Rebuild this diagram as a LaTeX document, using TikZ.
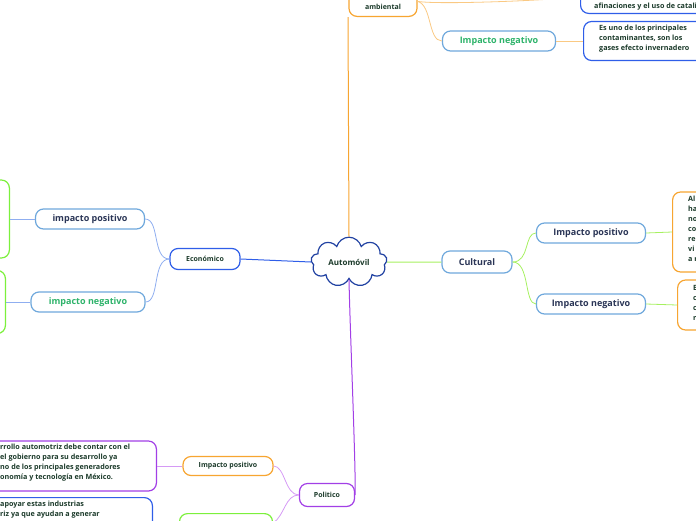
\documentclass[tikz,border=0pt]{standalone}
\usepackage{fontspec}
\setmainfont{Open Sans}
\usetikzlibrary{shapes.symbols}
\definecolor{ink}{HTML}{1B3A2A}
\definecolor{navy}{HTML}{2A3556}
\definecolor{gtext}{HTML}{2DB36A}
\definecolor{bord}{HTML}{6FA8DC}
\definecolor{orng}{HTML}{F7A531}
\definecolor{lgreen}{HTML}{A6F060}
\definecolor{gbox}{HTML}{7CF03C}
\definecolor{purp}{HTML}{A23FE6}
\definecolor{lpurp}{HTML}{D59AF5}
\definecolor{blu}{HTML}{2F5EE8}
\definecolor{lblu}{HTML}{8FAEF0}
\begin{document}
\begin{tikzpicture}[x=1pt,y=-1pt,
 box/.style={draw=#1,line width=1.2pt,rounded corners=8pt,fill=white},
 sub/.style={box=bord,minimum height=20pt,font=\bfseries\fontsize{9}{10}\selectfont},
 txt/.style={font=\bfseries\fontsize{7.2}{10}\selectfont,text=ink,align=left,anchor=north west,inner sep=0pt}]
\useasboundingbox (0,0) rectangle (696,520);
\clip (0,0) rectangle (696,520);
% centre
\node[cloud,cloud puffs=9,draw=blu!70!black,line width=1.2pt,fill=white,minimum width=76pt,minimum height=40pt,aspect=2,font=\bfseries\fontsize{8}{9}\selectfont,text=ink] (c) at (349,262) {Automóvil};
% ambiental
\node[box=orng,minimum width=68pt,minimum height=30pt,anchor=south] (amb) at (383,17) {};
\node[font=\bfseries\fontsize{7}{8}\selectfont,text=ink,inner sep=0pt] (ambt) at (383,7) {ambiental};
\draw[orng,line width=1pt] (c.north) -- (348,17);
\node[sub,text=gtext,minimum width=113pt] (an) at (499,41) {Impacto negativo};
\draw[orng!60,line width=0.8pt] (amb.east) .. controls (432,5) and (428,41) .. (an.west);
\node[box=blu,minimum width=130pt,minimum height=39pt,anchor=west] (anb) at (583,41) {};
\node[txt] at (599,25) {Es uno de los principales\\contaminantes, son los\\gases efecto invernadero};
\draw[orng!60,line width=0.8pt] (an.east) -- (anb.west);
\node[box=blu,minimum width=130pt,minimum height=34pt,anchor=south west] (apb) at (580,14) {};
\node[txt,anchor=base west] at (594,8) {afinaciones y el uso de catalizadores};
\draw[orng!60,line width=0.8pt] (amb.east) .. controls (440,5) and (560,0) .. (apb.west);
% cultural
\node[sub,minimum width=70pt,minimum height=22pt,text=navy] (cu) at (477,262) {Cultural};
\draw[lgreen,line width=1pt] (c.east) -- (cu.west);
\node[sub,text=navy,minimum width=109pt] (cp) at (591,233) {Impacto positivo};
\node[sub,text=navy,minimum width=109pt] (cn) at (591,304) {Impacto negativo};
\draw[lgreen,line width=0.8pt] (cu.east) .. controls (530,262) and (524,233) .. (cp.west);
\draw[lgreen,line width=0.8pt] (cu.east) .. controls (530,262) and (524,304) .. (cn.west);
\node[box=orng,minimum width=60pt,minimum height=80pt,anchor=west] (cpb) at (672,232) {};
\node[txt] at (688,196) {Al\\ha\\no\\co\\re\\vi\\a r};
\node[box=orng,minimum width=50pt,minimum height=50pt,anchor=west] (cnb) at (677,305) {};
\node[txt] at (693,285) {E\\c\\c\\r};
\draw[lgreen,line width=0.8pt] (cp.east) -- (cpb.west);
\draw[lgreen,line width=0.8pt] (cn.east) -- (cnb.west);
% economico
\node[box=blu,minimum width=70pt,minimum height=21pt,font=\bfseries\fontsize{7}{8}\selectfont,text=ink] (ec) at (205,259) {Económico};
\draw[blu,line width=1pt] (c.west) -- (ec.east);
\node[sub,text=navy,minimum width=109pt] (ep) at (90,219) {impacto positivo};
\node[sub,text=gtext,minimum width=114pt] (en) at (88,302) {impacto negativo};
\draw[lblu,line width=0.8pt] (ec.west) .. controls (152,259) and (160,219) .. (ep.east);
\draw[lblu,line width=0.8pt] (ec.west) .. controls (152,259) and (160,302) .. (en.east);
\node[box=gbox,minimum width=60pt,minimum height=78pt,anchor=east] (epb) at (10,219) {};
\node[box=gbox,minimum width=50pt,minimum height=63pt,anchor=east] (enb) at (6,302) {};
\draw[lblu,line width=0.8pt] (ep.west) -- (epb.east);
\draw[lblu,line width=0.8pt] (en.west) -- (enb.east);
% politico
\node[box=purp,minimum width=55pt,minimum height=23pt,font=\bfseries\fontsize{7}{8}\selectfont,text=ink] (po) at (327,495) {Politico};
\draw[purp,line width=1pt] (c.south) .. controls (350,330) and (356,470) .. (po.east);
\node[box=orng,minimum width=90pt,minimum height=19pt,font=\bfseries\fontsize{7}{8}\selectfont,text=ink] (pp) at (228,466) {Impacto positivo};
\node[box=gbox,minimum width=93pt,minimum height=19pt,anchor=north] (pn) at (226,513) {};
\draw[lpurp,line width=0.8pt] (po.west) .. controls (285,495) and (285,466) .. (pp.east);
\draw[lpurp,line width=0.8pt] (po.west) .. controls (285,495) and (285,515) .. (pn.east);
\node[box=purp,minimum width=190pt,minimum height=50pt,anchor=east] (ppb) at (157,466) {};
\node[txt] at (0,444) {rrollo automotriz debe contar con el\\el gobierno para su desarrollo ya\\no de los principales generadores\\onomía y tecnología en México.};
\draw[lpurp,line width=0.8pt] (pp.west) -- (ppb.east);
\node[box=blu,minimum width=190pt,minimum height=40pt,anchor=north east] (pnb) at (153,497) {};
\node[txt] at (0,501) {apoyar estas industrias\\riz ya que ayudan a generar};
\end{tikzpicture}
\end{document}
